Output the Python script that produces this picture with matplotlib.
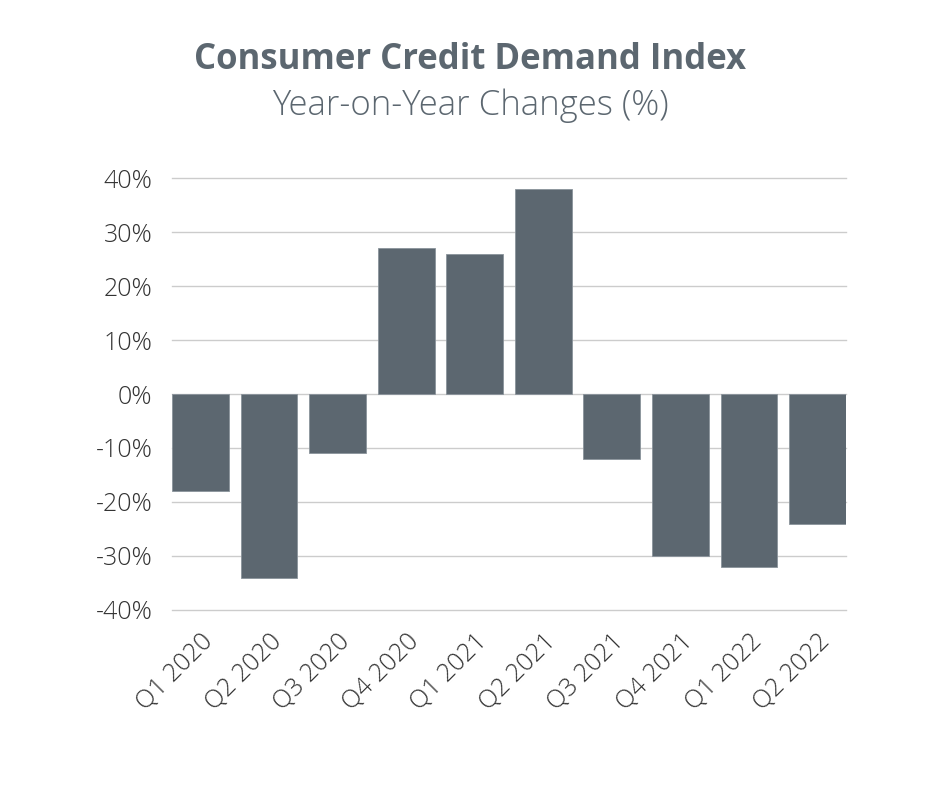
import numpy as np
import matplotlib.pyplot as plt
from matplotlib.ticker import FuncFormatter

plt.rcParams['font.family'] = ['Open Sans', 'DejaVu Sans']

quarters = ['Q1 2020', 'Q2 2020', 'Q3 2020', 'Q4 2020', 'Q1 2021',
            'Q2 2021', 'Q3 2021', 'Q4 2021', 'Q1 2022', 'Q2 2022']
changes = [-18, -34, -11, 27, 26, 38, -12, -30, -32, -24]
yticks = [-40, -30, -20, -10, 0, 10, 20, 30, 40]

bar_color = '#5c6770'
text_color = '#5c6770'
label_color = '#333333'
width = 0.83

fig = plt.figure(figsize=(9.4, 7.88), dpi=100)
ax = fig.add_axes([0.183, 0.226, 0.717, 0.548])

x = np.arange(len(quarters))
ax.bar(x, changes, width=width, color=bar_color, edgecolor='#8a939b',
       linewidth=0.6, zorder=3)

ax.set_xlim(-width / 2, len(quarters) - 1 + width / 2)
ax.set_ylim(-40, 40)
ax.set_yticks(yticks)
ax.yaxis.set_major_formatter(FuncFormatter(lambda v, p: '{:.0f}%'.format(v)))
ax.grid(axis='y', color='#cccccc', lw=1, zorder=0)
for gl in ax.get_ygridlines():
    gl.set_clip_on(False)
ax.set_xticks(x)
ax.set_xticklabels(quarters, rotation=45, ha='right', va='top',
                   rotation_mode='anchor')
for s in ax.spines.values():
    s.set_visible(False)
ax.tick_params(length=0, labelsize=18, labelcolor=label_color)
ax.tick_params(axis='y', pad=14)
ax.tick_params(axis='x', pad=14)
for t in ax.get_xticklabels() + ax.get_yticklabels():
    t.set_fontweight('light')

fig.text(0.5, 0.924, 'Consumer Credit Demand Index', ha='center', va='center',
         fontsize=25, fontweight='bold', color=text_color)
fig.text(0.5, 0.866, 'Year-on-Year Changes (%)', ha='center', va='center',
         fontsize=25, fontweight='light', color=text_color)

fig.savefig('out.png', dpi=100)
